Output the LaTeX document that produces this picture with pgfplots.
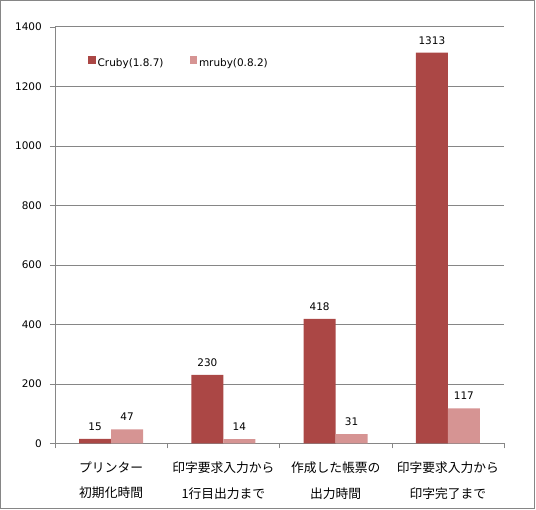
\documentclass[border=0pt]{standalone}
\usepackage{fontspec}
\setmainfont{DejaVu Sans}
\newfontfamily\cjk{Noto Sans CJK JP}
\usepackage{pgfplots}
\pgfplotsset{compat=1.18}
\definecolor{cruby}{RGB}{171,71,69}
\definecolor{mruby}{RGB}{214,148,147}
\definecolor{gridc}{RGB}{134,134,134}
\pgfplotsset{/pgf/number format/assume math mode=true,
  /pgf/number format/1000 sep={}}
\begin{document}
\begin{tikzpicture}[x=1bp,y=1bp]
\useasboundingbox (0,0) rectangle (536,510);
\draw[gridc] (0.5,1.5) rectangle (534.5,509.5);
\begin{axis}[
  at={(55bp,66.7bp)}, anchor=south west,
  scale only axis, width=449bp, height=416.6bp,
  ymin=0, ymax=1400, ytick={0,200,...,1400},
  xmin=-0.5, xmax=3.5,
  xtick={0,1,2,3},
  xticklabels={プリンター\\初期化時間, 印字要求入力から\\1行目出力まで,
    作成した帳票の\\出力時間, 印字要求入力から\\印字完了まで},
  major x tick style={draw=none},
  minor xtick={-0.5,0.5,1.5,2.5,3.5},
  tick align=outside, major tick length=5bp, minor tick length=5bp,
  tick style={gridc},
  axis x line*=bottom, axis y line*=left,
  axis line style={gridc,-},
  ymajorgrids, grid style={gridc},
  ybar=0pt, bar width=32bp,
  enlargelimits=false, clip=false,
  yticklabel style={font=\fontsize{10.5}{12}\selectfont, inner sep=0pt, xshift=-8bp},
  xticklabel style={font=\cjk\fontsize{12.8}{26}\selectfont, align=center,
    anchor=north, inner sep=0pt, yshift=-13bp},
  nodes near coords,
  nodes near coords style={font=\fontsize{10.5}{12}\selectfont, anchor=base,
    inner sep=0pt, yshift=8.5bp, text=black},
  legend columns=2,
  legend style={at={(0.0735,0.912)}, anchor=west, draw=none, fill=none,
    inner sep=0pt, font=\fontsize{10.5}{12}\selectfont,
    /tikz/every odd column/.append style={column sep=0bp},
    /tikz/every even column/.append style={column sep=24bp}},
  legend image code/.code={\fill[#1] (0bp,0bp) rectangle (7.5bp,7.5bp);},
]
\addplot[fill=cruby, draw=none] coordinates {(0,15) (1,230) (2,418) (3,1313)};
\addplot[fill=mruby, draw=none] coordinates {(0,47) (1,14) (2,31) (3,117)};
\legend{Cruby(1.8.7), mruby(0.8.2)}
\end{axis}
\end{tikzpicture}
\end{document}
